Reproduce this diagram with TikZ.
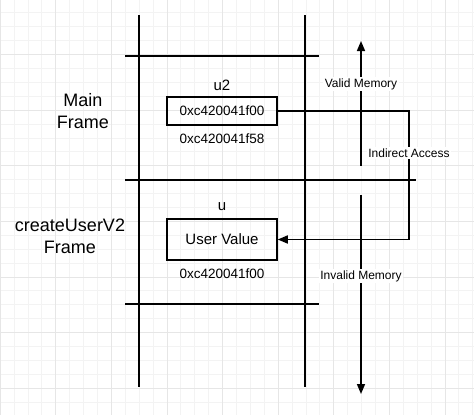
\documentclass[tikz,border=0pt]{standalone}
\usepackage{fontspec}
\setmainfont{Liberation Sans}
\usetikzlibrary{arrows.meta}
\definecolor{gridminor}{HTML}{F3F3F3}
\definecolor{gridmajor}{HTML}{E6E6E6}
\tikzset{
  frameline/.style={line width=1.7pt},
  membox/.style={draw, line width=1.5pt, minimum width=110pt, inner sep=0pt},
  addr/.style={font=\fontsize{13.5}{16}\selectfont},
  varname/.style={font=\fontsize{15}{18}\selectfont},
  framename/.style={font=\fontsize{18}{22}\selectfont, align=center},
  memlabel/.style={fill=white, inner sep=1.5pt, font=\fontsize{12}{14}\selectfont},
  tip/.style={-{Triangle[length=10pt,width=8pt]}, line width=1.5pt}
}
\begin{document}
\begin{tikzpicture}[x=1pt,y=-1pt]
      \useasboundingbox (0,0) rectangle (474,415);
      % grid
      \foreach \k in {0,...,34} {
        \draw [gridminor, line width=0.5pt] (13.9*\k,0) -- (13.9*\k,415);
      }
      \foreach \k in {1,...,29} {
        \draw [gridminor, line width=0.5pt] (0,13.9*\k-1.2) -- (474,13.9*\k-1.2);
      }
      \foreach \k in {0,...,8} {
        \draw [gridmajor, line width=0.5pt] (55.6*\k,0) -- (55.6*\k,415);
      }
      \foreach \k in {1,...,7} {
        \draw [gridmajor, line width=0.5pt] (0,55.6*\k-1.2) -- (474,55.6*\k-1.2);
      }
      % stack frame lines
      \coordinate (lt) at (139,15);
      \coordinate (lb) at (139,387);
      \coordinate (rt) at (305,15);
      \coordinate (rb) at (305,387);
      \draw [frameline] (lt) -- (lb); % left wall
      \draw [frameline] (rt) -- (rb); % right wall
      \coordinate (top1) at (125,56);
      \coordinate (top2) at (319,56);
      \coordinate (mid1) at (125,180);
      \coordinate (mid2) at (416,180);
      \coordinate (bot1) at (125,304);
      \coordinate (bot2) at (319,304);
      \draw [frameline] (top1) -- (top2);
      \draw [frameline] (mid1) -- (mid2);
      \draw [frameline] (bot1) -- (bot2);
      % frame names
      \node [framename] (mainname) at (83,111) {Main\\Frame};
      \node [framename] (createname) at (70,236) {createUserV2\\Frame};
      % u2 in main frame
      \node [membox, minimum height=28pt, addr] (u2box) at (222,111) {0xc420041f00};
      \node [varname] (u2name) at (222,85) {u2};
      \node [addr] (u2addr) at (222,139) {0xc420041f58};
      % u in createUserV2 frame
      \node [membox, minimum height=41pt, varname] (ubox) at (222,239.5) {User Value};
      \node [varname] (uname) at (222,207) {u};
      \node [addr] (uaddr) at (222,274) {0xc420041f00};
      % pointer u2 -> u
      \coordinate (bend) at (409,111);
      \draw [tip] (u2box.east) -- (bend) |- (ubox.east);
      \node [memlabel] (indirect) at (409,153) {Indirect Access};
      % valid / invalid memory
      \coordinate (vstart) at (361,166);
      \coordinate (vend) at (361,41);
      \coordinate (istart) at (361,195);
      \coordinate (iend) at (361,394);
      \draw [tip] (vstart) -- (vend);
      \draw [tip] (istart) -- (iend);
      \node [memlabel] (valid) at (361,84) {Valid Memory};
      \node [memlabel] (invalid) at (361,276) {Invalid Memory};
    \end{tikzpicture}
\end{document}
